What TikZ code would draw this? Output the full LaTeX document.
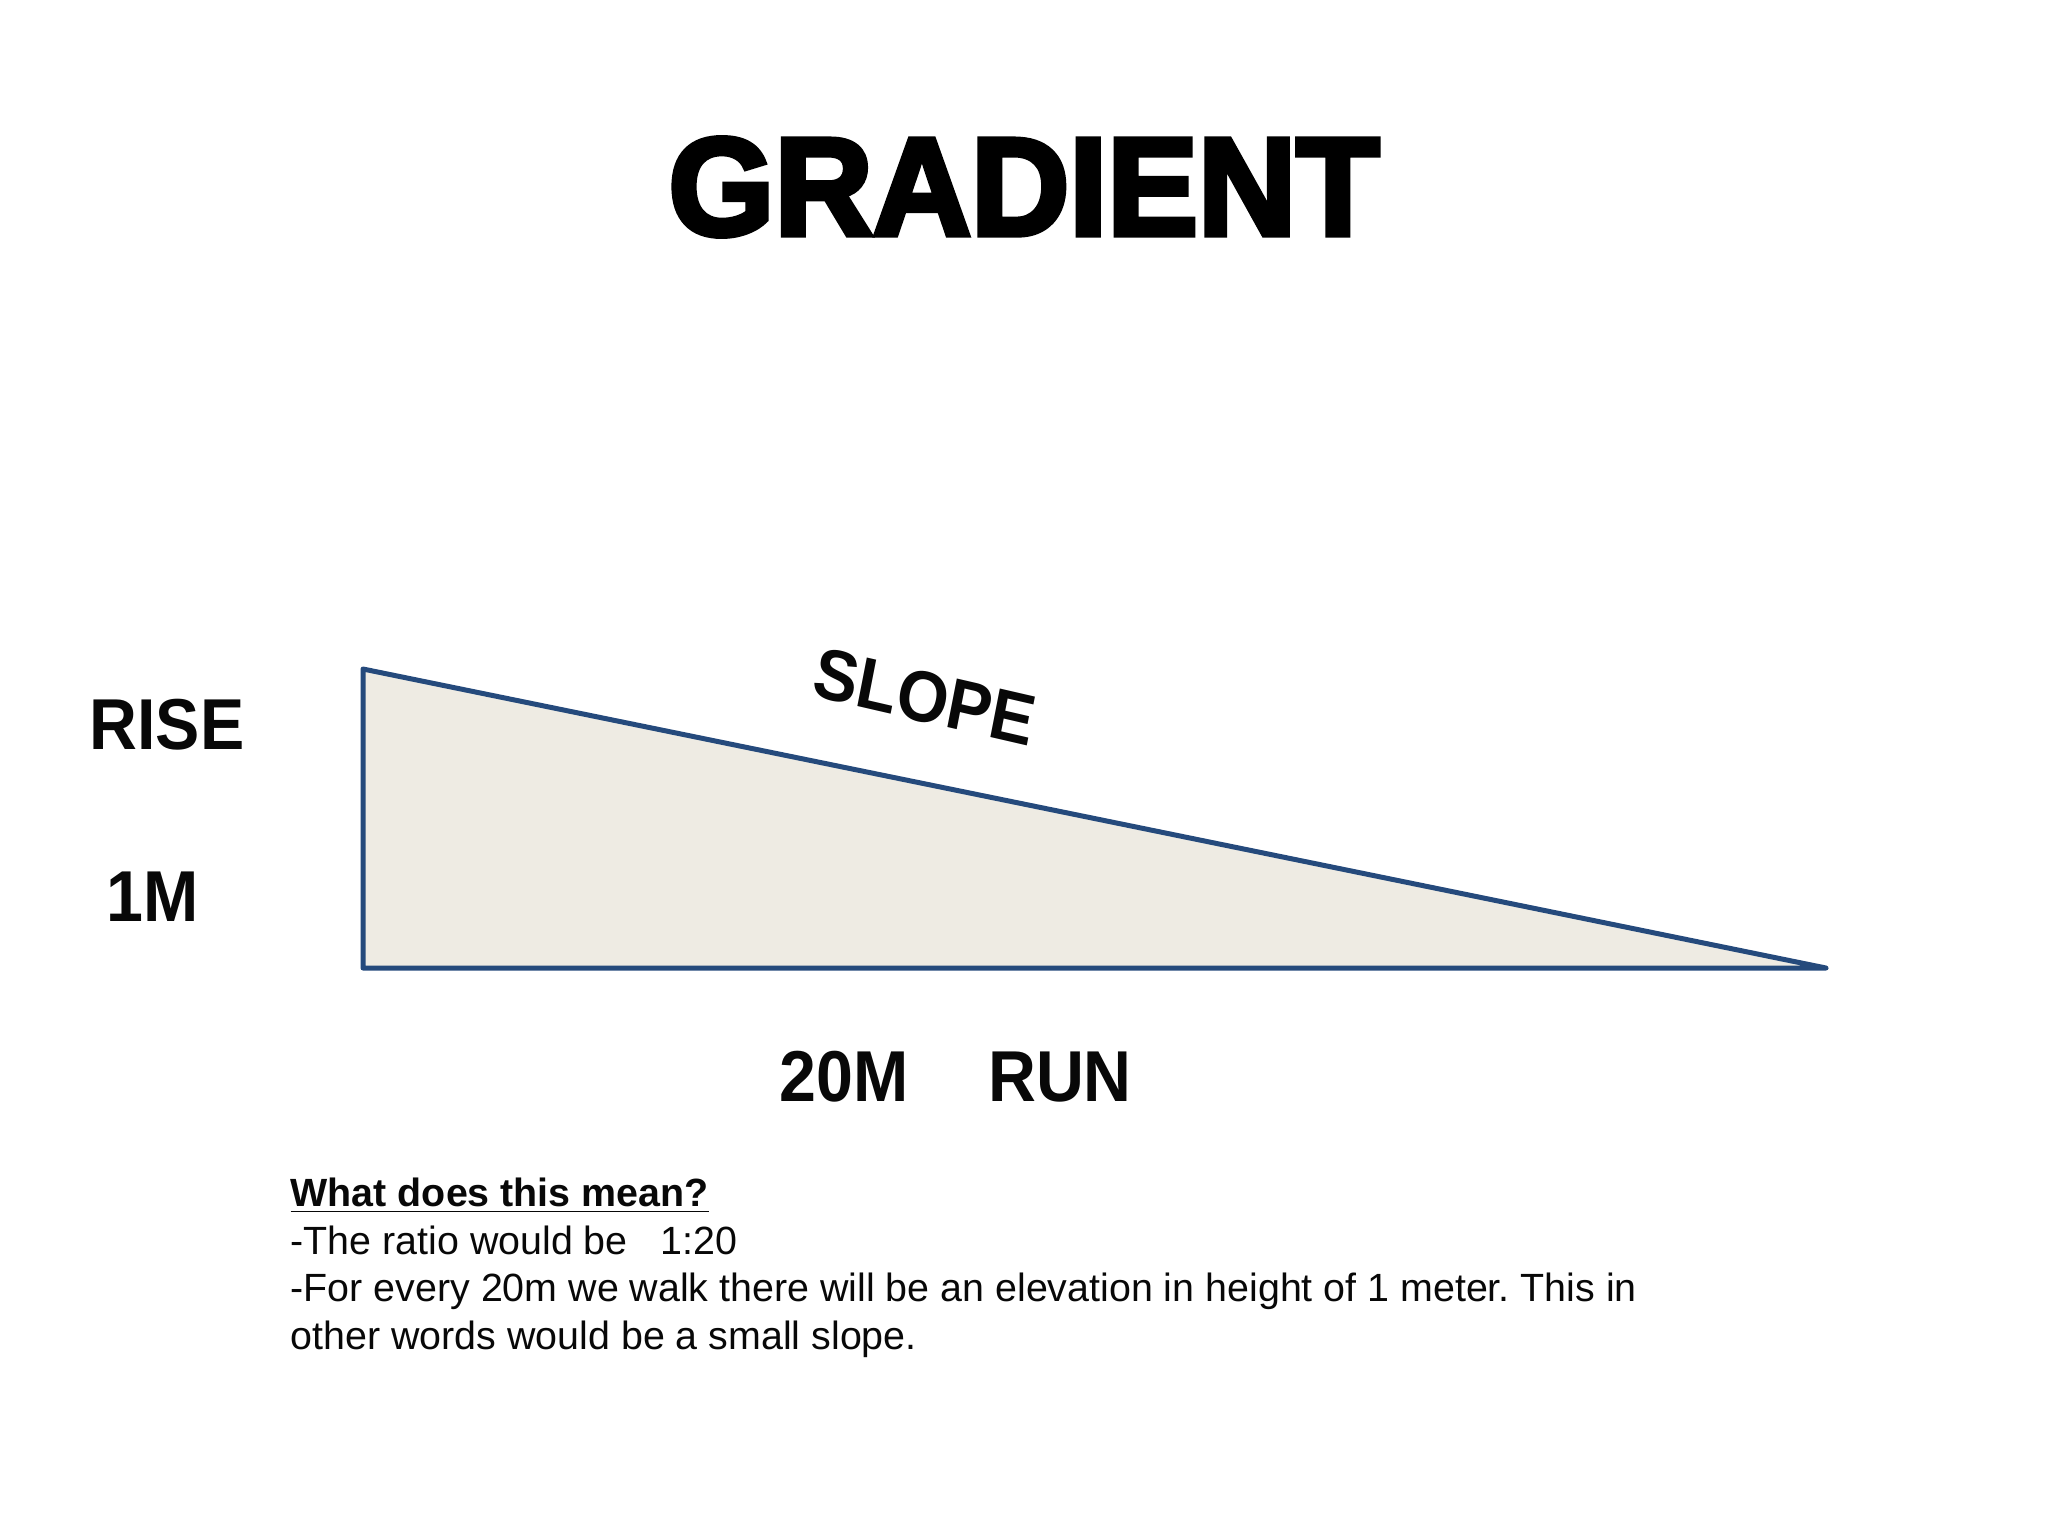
\documentclass[tikz,border=0pt]{standalone}
\usepackage{fontspec}
\setmainfont{Liberation Sans}
\newfontfamily\heavyfont[FakeBold=4]{Liberation Sans}
\newlength{\du}
\setlength{\du}{0.01cm}
\definecolor{rampline}{rgb}{0.145, 0.290, 0.486}
\definecolor{rampfill}{rgb}{0.933, 0.922, 0.890}
\definecolor{inkcolor}{rgb}{0.030, 0.030, 0.030}
\tikzset{
  rampside/.style={draw=rampline, fill=rampfill, line width=5\du, line join=round},
  biglabel/.style={text=inkcolor, inner sep=0pt, xscale=0.92,
    font=\fontsize{20.5}{24}\selectfont\bfseries},
  notetext/.style={text=inkcolor, inner sep=0pt, align=left,
    font=\fontsize{11.2}{13.6}\selectfont}
}
\frenchspacing

\begin{document}
\begin{tikzpicture}
\pgftransformxscale{1.000000}
\pgftransformyscale{-1.000000}
\useasboundingbox (0\du,0\du) rectangle (2048\du,1536\du);
% title
\node[text=black, inner sep=0pt, xscale=0.98, font=\fontsize{39.5}{44}\heavyfont\bfseries] (title) at (1024\du,187\du){GRADIENT};
% the ramp
\coordinate (top) at (363\du,669\du);
\coordinate (corner) at (363\du,968\du);
\coordinate (tip) at (1826\du,968\du);
\filldraw[rampside] (top)--(corner)--(tip)--cycle;
\node[biglabel, rotate=-12] (slope) at (925\du,697\du){SLOPE};
\node[biglabel] (rise) at (167\du,725\du){RISE};
\node[biglabel] (onem) at (153\du,897\du){1M};
\node[biglabel] (twentym) at (844\du,1077\du){20M};
\node[biglabel] (run) at (1060\du,1077\du){RUN};
% explanation
\node[notetext, anchor=north west] (note) at (290\du,1177\du){\underline{\textbf{What does this mean?}}\\
-The ratio would be \ \ 1:20\\
-For every 20m we walk there will be an elevation in height of 1 meter. This in\\
other words would be a small slope.};
\end{tikzpicture}
\end{document}
